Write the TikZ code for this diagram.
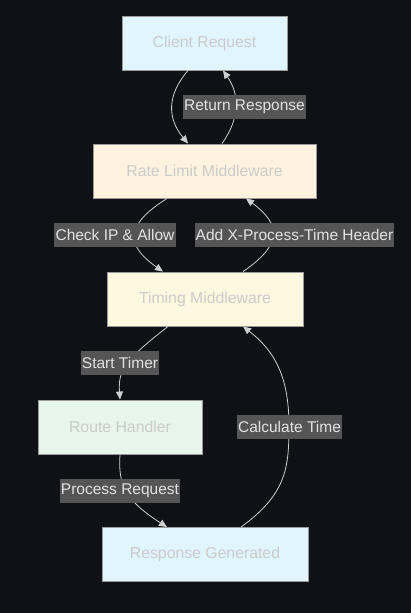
\documentclass[tikz,border=0pt]{standalone}
\usepackage{fontspec}
\setmainfont{Liberation Sans}
\usetikzlibrary{arrows.meta}
\definecolor{bgc}{HTML}{0F1116}
\definecolor{nodetext}{HTML}{CBCBCB}
\definecolor{nodeborder}{HTML}{9A9A9A}
\definecolor{lblbg}{HTML}{555555}
\definecolor{lbltext}{HTML}{E2E2E2}
\definecolor{edgec}{HTML}{CFCFCF}
\definecolor{fblue}{HTML}{E1F5FE}
\definecolor{forange}{HTML}{FFF3E0}
\definecolor{fyellow}{HTML}{FFF8E1}
\definecolor{fgreen}{HTML}{E8F5E9}
\tikzset{
  box/.style={draw=nodeborder, line width=0.9pt, text=nodetext, inner sep=0pt,
    font=\fontsize{15.8}{18}\selectfont, minimum height=54pt},
  lbl/.style={fill=lblbg, text=lbltext, inner xsep=1.2pt, inner ysep=0pt,
    minimum height=24pt, font=\fontsize{15.5}{18}\selectfont},
  edge/.style={draw=edgec, line width=0.8pt, -{Triangle[length=8pt,width=7pt]}}
}
\begin{document}
\begin{tikzpicture}[x=1pt,y=-1pt]
\fill[bgc] (0,0) rectangle (411,613);
\useasboundingbox (0,0) rectangle (411,613);

\node[box, fill=fblue, minimum width=165pt] (client) at (204.5,43) {Client Request};
\node[box, fill=forange, minimum width=223pt] (rate) at (204.5,171) {Rate Limit Middleware};
\node[box, fill=fyellow, minimum width=196pt] (timing) at (205,299) {Timing Middleware};
\node[box, fill=fgreen, minimum width=164pt] (route) at (120,427) {Route Handler};
\node[box, fill=fblue, minimum width=206pt] (resp) at (205,554.5) {Response Generated};

% edges
\draw[edge] ([xshift=-16.5pt]client.south) .. controls (167,95) and (167,118) .. ([xshift=-16.5pt]rate.north);
\draw[edge] ([xshift=17.5pt]rate.north) .. controls (240,118) and (240,95) .. ([xshift=18.5pt]client.south);
\draw[edge] ([xshift=-37.5pt]rate.south) .. controls (125,225) and (125,245) .. ([xshift=-42pt]timing.north);
\draw[edge] ([xshift=38pt]timing.north) .. controls (282,245) and (282,225) .. ([xshift=41.5pt]rate.south);
\draw[edge] ([xshift=-37pt]timing.south) .. controls (125,360) and (118,370) .. (route.north);
\draw[edge] (route.south) .. controls (118,485) and (125,500) .. ([xshift=-38pt]resp.north);
\draw[edge] ([xshift=36pt]resp.north) .. controls (285,495) and (289,470) .. (289,427)
  .. controls (289,385) and (280,355) .. ([xshift=38pt]timing.south);

% labels
\node[lbl] (l1) at (244.5,106.5) {Return Response};
\node[lbl] (l2) at (115,235) {Check IP \& Allow};
\node[lbl] (l3) at (294.5,235) {Add X-Process-Time Header};
\node[lbl] (l4) at (120,362.5) {Start Timer};
\node[lbl] (l5) at (289.5,427) {Calculate Time};
\node[lbl] (l6) at (120,491) {Process Request};
\end{tikzpicture}
\end{document}
